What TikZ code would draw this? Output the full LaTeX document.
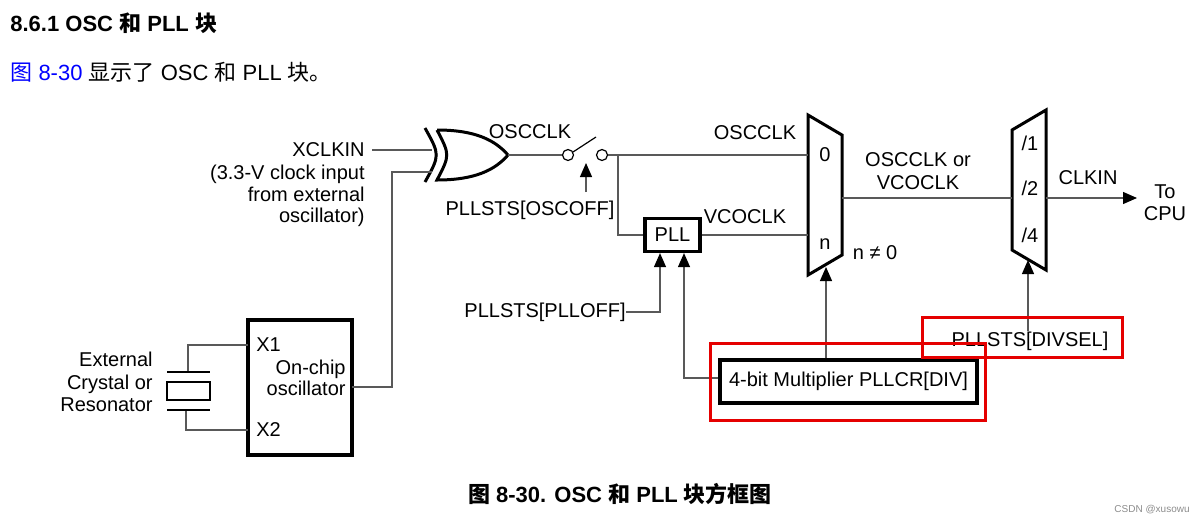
\documentclass[tikz,border=0pt]{standalone}
\usepackage{fontspec}
\setmainfont{Liberation Sans}
\newfontfamily\cjk{Noto Sans CJK SC}
\usetikzlibrary{arrows.meta}
\begin{document}
\begin{tikzpicture}[x=0.5pt,y=-0.5pt,
  wire/.style={draw=black!65,line width=0.6pt},
  tbox/.style={draw=black,line width=1.6pt},
  lbl/.style={font=\fontsize{10}{11.2}\selectfont,inner sep=0pt},
  arr/.style={wire,-{Triangle[length=7pt,width=6pt,fill=black,color=black]}},
  redbox/.style={draw=red!90!black,line width=1.5pt}]
\useasboundingbox (0,0) rectangle (1198,525);
% headings
\node[anchor=west,inner sep=0pt,font=\fontsize{11}{12}\selectfont\bfseries] (title) at (10,23) {8.6.1 OSC {\cjk 和} PLL {\cjk 块}};
\node[anchor=west,inner sep=0pt,font=\fontsize{11}{12}\selectfont] (intro) at (10,72) {\textcolor{blue}{{\cjk 图} 8-30} {\cjk 显示了} OSC {\cjk 和} PLL {\cjk 块。}};
\node[inner sep=0pt,font=\fontsize{11}{12}\selectfont\bfseries] (cap) at (620,494) {{\cjk 图} 8-30. OSC {\cjk 和} PLL {\cjk 块方框图}};
\node[anchor=east,inner sep=0pt,text=black!45,font=\fontsize{5}{6}\selectfont] (csdn) at (1190,510) {CSDN @xusowu};
% XOR gate
\draw[line width=1.5pt] (425,128) .. controls (440,155) .. (425,182);
\draw[line width=1.5pt] (437,130) .. controls (475,130) and (495,140) .. (508,155)
  .. controls (495,170) and (475,180) .. (437,180) .. controls (450,155) .. (437,130);
\coordinate (gout) at (508,155);
\coordinate (gin1) at (432,150);
\coordinate (gin2) at (432,172);
% XCLKIN text
\node[lbl,anchor=base east] (xclk) at (365,156) {XCLKIN};
\node[lbl,anchor=base east] (xclka) at (365,179) {(3.3-V clock input};
\node[lbl,anchor=base east] (xclkb) at (365,201) {from external};
\node[lbl,anchor=base east] (xclkc) at (365,222) {oscillator)};
\draw[wire] (372,150) -- (gin1);
% oscillator box
\node[tbox,minimum width=52pt,minimum height=67.5pt,inner sep=0pt] (osc) at (300,387.5) {};
\node[lbl,anchor=west] (x1) at (256,345) {X1};
\node[lbl,anchor=west] (x2) at (256,430) {X2};
\node[lbl,anchor=east,align=right] (oct) at (346,378) {On-chip\\[-1pt]oscillator};
\coordinate (oo) at (352,387);
\draw[wire] (oo) -- (392,387) -- (392,172) -- (gin2);
% crystal
\draw[wire] (248,345) -- (188,345) -- (188,372);
\draw[wire] (186,410) -- (186,430) -- (248,430);
\draw[line width=0.8pt] (167,372) -- (210,372) (167,410) -- (210,410);
\draw[line width=0.8pt] (167,382) rectangle (210,400);
\node[lbl,anchor=east,align=right] (ext) at (153,382) {External\\[0pt]Crystal or\\[0pt]Resonator};
% switch
\node[draw=black,line width=0.6pt,circle,minimum size=5.5pt,inner sep=0pt] (s1) at (568,155) {};
\node[draw=black,line width=0.6pt,circle,minimum size=5.5pt,inner sep=0pt] (s2) at (602,155) {};
\draw[line width=0.6pt] (573,152) -- (596,137);
\draw[wire] (gout) -- (s1);
\node[lbl] (osccl1) at (530,132) {OSCCLK};
\node[lbl] (oscoff) at (530,210) {PLLSTS[OSCOFF]};
\coordinate (swa) at (586,192);
\draw[arr] (swa) -- (586,163);
% mux1
\draw[line width=1.5pt] (808,115) -- (842,135) -- (842,255) -- (808,275) -- cycle;
\node[lbl] (m0) at (825,155) {0};
\node[lbl] (mn) at (825,244) {n};
\node[lbl] (nne) at (875,253) {n ≠ 0};
% PLL
\node[tbox,minimum width=27.5pt,minimum height=16.5pt,inner sep=0pt,lbl] (pll) at (672.5,235) {PLL};
\draw[wire] (s2) -- (808,155);
\draw[wire] (618,155) -- (618,235) -- (pll.west);
\node[lbl] (osccl2) at (755,133) {OSCCLK};
\draw[wire] (pll.east) -- (808,235);
\node[lbl] (vco) at (745,217) {VCOCLK};
\node[lbl,anchor=east] (plloff) at (626,312) {PLLSTS[PLLOFF]};
\draw[arr] (plloff.east) -- (660,312) -- (pll.south -| 660,0);
% multiplier
\node[tbox,minimum width=128.5pt,minimum height=21.5pt,inner sep=0pt,lbl] (mult) at (848.5,381.5) {4-bit Multiplier PLLCR[DIV]};
\draw[arr] (mult.west |- 0,378) -- (684,378) -- (pll.south -| 684,0);
\draw[arr] (mult.north -| 826,0) -- (826,267);
% mux2
\draw[line width=1.5pt] (1012,130) -- (1046,110) -- (1046,270) -- (1012,250) -- cycle;
\node[lbl] (d1) at (1030,143) {/1};
\node[lbl] (d2) at (1030,188) {/2};
\node[lbl] (d4) at (1030,235) {/4};
\draw[wire] (842,198) -- (1012,198);
\node[lbl,align=center] (ov) at (918,171) {OSCCLK or\\[0pt]VCOCLK};
\coordinate (cpu) at (1137,198);
\draw[arr] (1046,198) -- (cpu);
\node[lbl] (clkin) at (1088,178) {CLKIN};
\node[lbl,align=center] (tocpu) at (1165,203) {To\\[0pt]CPU};
\node[lbl] (divsel) at (1030,341) {PLLSTS[DIVSEL]};
\draw[arr] (divsel.north -| 1028,0) -- (1028,260);
% red highlights
\draw[redbox] (710,343) rectangle (985,420);
\draw[redbox] (922,317) rectangle (1122,357);
\end{tikzpicture}
\end{document}
